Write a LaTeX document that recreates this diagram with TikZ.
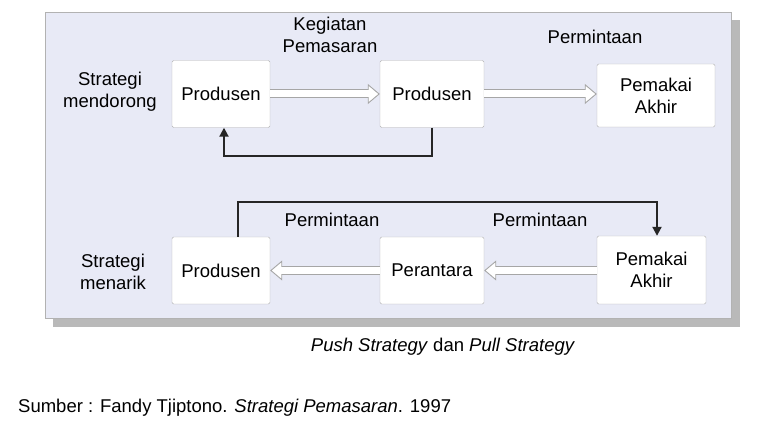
\documentclass[tikz,border=0pt]{standalone}
\usepackage{fontspec}
\setmainfont{Liberation Sans}
\usetikzlibrary{arrows.meta}
\begin{document}
\begin{tikzpicture}[x=1pt,y=-1pt,
 box/.style={draw=gray!60, fill=white, rounded corners=1.5pt, minimum width=#1, minimum height=67pt, align=center, inner sep=0pt},
 lbl/.style={align=center, inner sep=0pt},
 hollow/.style={draw=none,
   preaction={draw=gray!70, line width=0.9pt, -{Triangle[open,fill=white,length=12pt,width=20pt]}},
   preaction={draw=gray!70, line width=9pt, shorten >=11.5pt},
   preaction={draw=white, line width=7pt, shorten >=10pt}},
 blk/.style={draw=black!85, line width=2pt, -{Triangle[length=9pt,width=9pt]}},
 font=\fontsize{18.5}{22}\selectfont]
\useasboundingbox (0,0) rectangle (758,438);
\fill[gray!55] (53,20) rectangle (740,327);
\draw[gray!60, fill={rgb,255:red,232;green,234;blue,246}] (45,12) rectangle (731,318);
\node[box=98pt] (p1) at (221,94) {Produsen};
\node[box=104pt] (p2) at (432,94) {Produsen};
\node[box=118pt, minimum height=63pt] (pa1) at (656,95.5) {Pemakai\\Akhir};
\node[box=98pt] (q1) at (221,270.5) {Produsen};
\node[box=104pt] (q2) at (432,270.5) {Perantara};
\node[box=109pt, minimum height=68pt] (pa2) at (651.5,270) {Pemakai\\Akhir};
\draw[hollow] (p1.east) -- (p2.west);
\draw[hollow] (p2.east) -- (pa1.west |- p2.east);
\draw[hollow] (pa2.west |- q2.east) -- (q2.east);
\draw[hollow] (q2.west) -- (q1.east);
\coordinate (a1) at (432,156);
\coordinate (a2) at (224,156);
\draw[blk] (p2.south -| a1) -- (a1) -- (a2) -- (p1.south -| a2);
\coordinate (b1) at (238,202);
\coordinate (b2) at (657,202);
\draw[blk] (q1.north -| b1) -- (b1) -- (b2) -- (pa2.north -| b2);
\node[lbl] (t1) at (330,35) {Kegiatan\\Pemasaran};
\node[lbl] (t2) at (595,37) {Permintaan};
\node[lbl] (t3) at (110,92) {Strategi\\mendorong};
\node[lbl] (t4) at (332,220) {Permintaan};
\node[lbl] (t5) at (540,220) {Permintaan};
\node[lbl] (t6) at (113,272) {Strategi\\menarik};
\node[lbl] (cap) at (443,347) {\textit{Push Strategy} dan \textit{Pull Strategy}};
\node[lbl, anchor=west] (src) at (18,408) {Sumber : Fandy Tjiptono. \textit{Strategi Pemasaran}. 1997};
\end{tikzpicture}
\end{document}
